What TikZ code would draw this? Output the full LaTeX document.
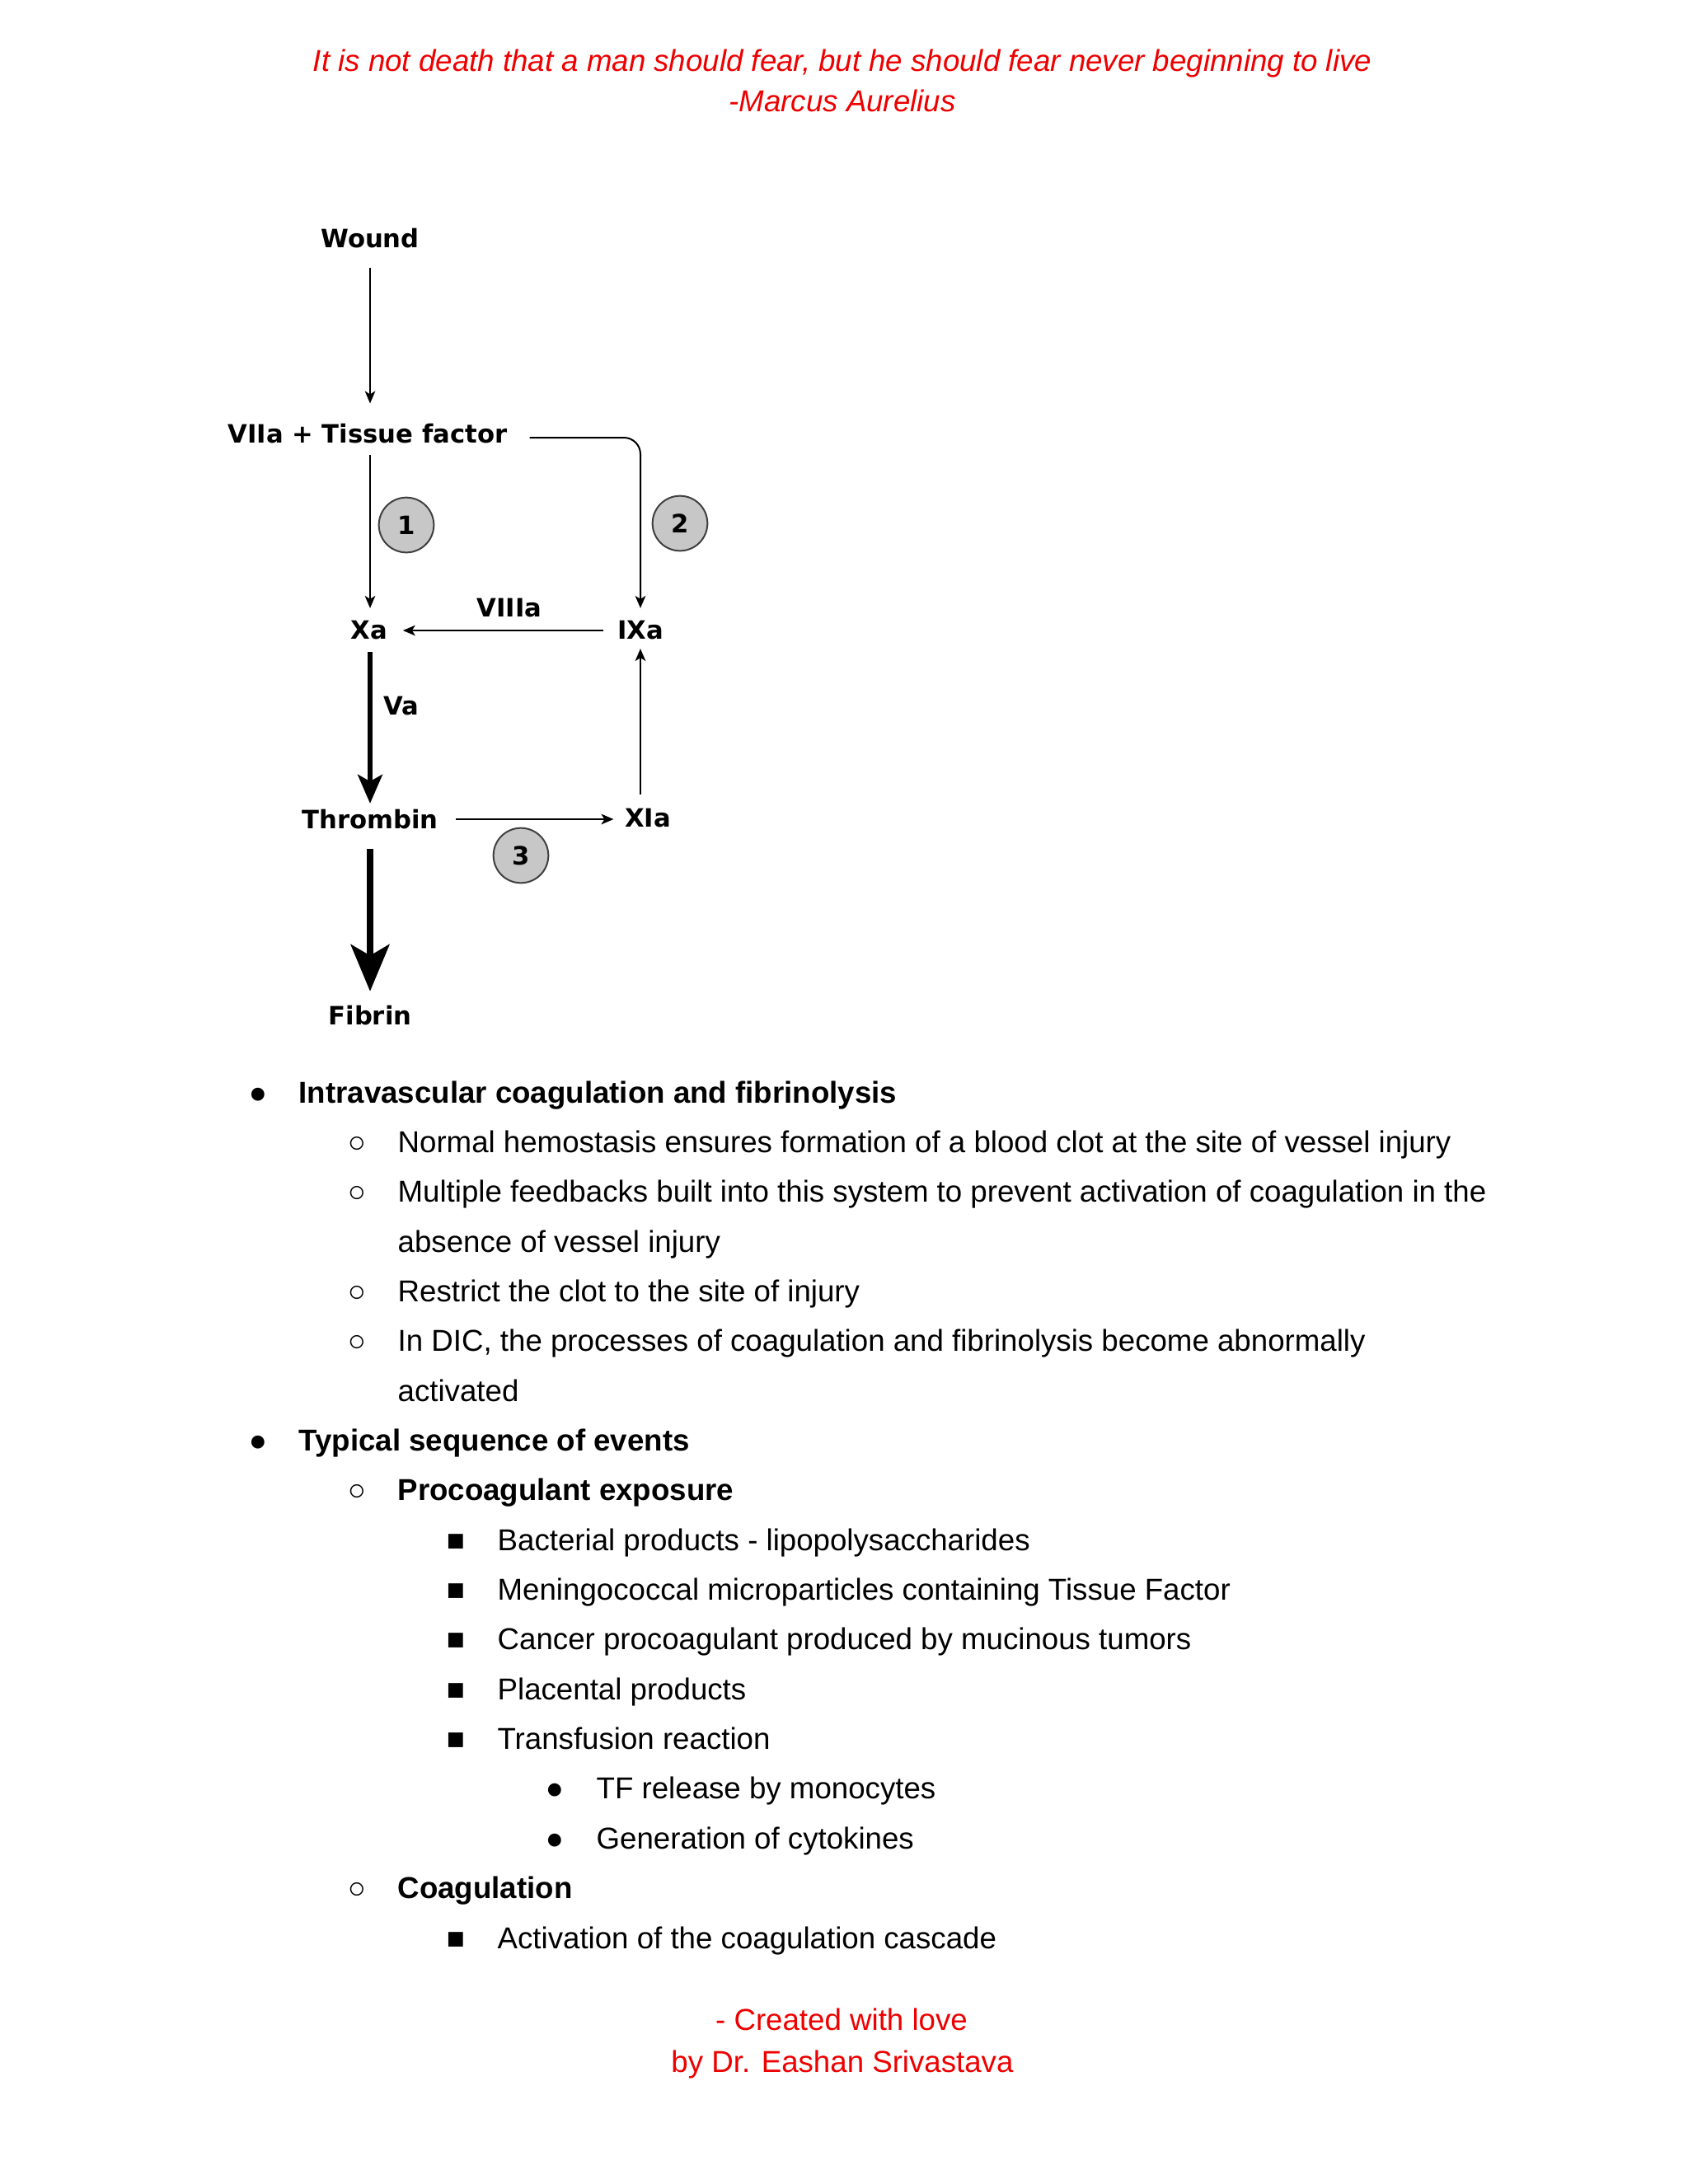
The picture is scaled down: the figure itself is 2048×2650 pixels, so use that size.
\documentclass[tikz,border=0pt]{standalone}
\usepackage{fontspec}
\setmainfont{Liberation Sans}
\newfontfamily\diagfont{DejaVu Sans}
\usetikzlibrary{arrows.meta,calc}
\definecolor{qred}{RGB}{238,0,0}
\begin{document}
\begin{tikzpicture}[x=0.3pt,y=-0.3pt,
  lbl/.style={font=\diagfont\bfseries\fontsize{9.2}{11}\selectfont, inner sep=0pt},
  num/.style={circle, draw=black!75, line width=0.6pt, fill=black!22, minimum size=20pt, inner sep=0pt, font=\diagfont\bfseries\fontsize{9.2}{11}\selectfont},
  thinarr/.style={line width=0.6pt, -{Stealth[length=4.5pt,width=3.8pt,inset=1.2pt]}},
  midarr/.style={line width=1.6pt, -{Stealth[length=10.5pt,width=9pt,inset=2.5pt]}},
  bigarr/.style={line width=2.5pt, -{Stealth[length=17pt,width=14pt,inset=4pt]}},
  txt/.style={anchor=base west, inner sep=0pt, font=\fontsize{11}{13}\selectfont},
  btxt/.style={anchor=base west, inner sep=0pt, font=\fontsize{11}{13}\selectfont\bfseries},
  bul/.style={anchor=base, inner sep=0pt, font=\fontsize{11}{13}\selectfont},
  redtxt/.style={anchor=base, inner sep=0pt, text=qred, font=\fontsize{11}{13}\selectfont},
  quote/.style={anchor=base, inner sep=0pt, text=qred, font=\fontsize{11}{13}\selectfont\itshape}
]
\useasboundingbox[fill=white] (0,0) rectangle (2048,2650);

% quote
\node[quote] (q1) at (1022,86) {It is not death that a man should fear, but he should fear never beginning to live};
\node[quote] (q2) at (1022,135) {-Marcus Aurelius};

% diagram nodes
\node[lbl] (wound) at (449,289) {Wound};
\node[lbl] (vii) at (446,526) {VIIa + Tissue factor};
\node[lbl] (xa) at (448,765) {Xa};
\node[lbl] (ixa) at (777,765) {IXa};
\node[lbl] (viiia) at (618,738) {VIIIa};
\node[lbl] (va) at (487,857) {Va};
\node[lbl] (thr) at (449,994) {Thrombin};
\node[lbl] (xia) at (786,993) {XIa};
\node[lbl] (fib) at (449,1232) {Fibrin};
\node[num] (c1) at (493,637) {1};
\node[num] (c2) at (825,635) {2};
\node[num] (c3) at (632,1038) {3};

% connectors
\draw[thinarr, shorten <=7pt, shorten >=7.2pt] (wound.south) -- (wound.south |- vii.north);
\draw[thinarr, shorten <=4pt, shorten >=4.5pt] (wound.south |- vii.south) -- (wound.south |- xa.north);
\draw[thinarr, rounded corners=6pt, shorten >=4.5pt] ([xshift=8pt,yshift=-1.5pt]vii.east) -| (ixa.north);
\draw[thinarr, shorten <=4.8pt, shorten >=5.4pt] (ixa.west) -- (xa.east);
\draw[midarr, shorten <=4.2pt, shorten >=2pt] (wound.south |- xa.south) -- (wound.south |- thr.north);
\draw[thinarr, shorten <=6.3pt, shorten >=3.9pt] (thr.east) -- (thr.east -| xia.west);
\draw[thinarr, shorten <=5pt, shorten >=3pt] (ixa.south |- xia.north) -- (ixa.south);
\draw[bigarr, shorten <=6.9pt, shorten >=5pt] (wound.south |- thr.south) -- (wound.south |- fib.north);

% bullet list
\node[bul] (b1) at (313,1338) {●};
\node[btxt] (t1) at (362,1338) {Intravascular coagulation and fibrinolysis};
\node[bul] (b2) at (433,1398.4) {○};
\node[txt] (t2) at (482,1398.4) {Normal hemostasis ensures formation of a blood clot at the site of vessel injury};
\node[bul] (b3) at (433,1458.7) {○};
\node[txt] (t3) at (482,1458.7) {Multiple feedbacks built into this system to prevent activation of coagulation in the};
\node[txt] (t3b) at (482,1519) {absence of vessel injury};
\node[bul] (b4) at (433,1579.4) {○};
\node[txt] (t4) at (482,1579.4) {Restrict the clot to the site of injury};
\node[bul] (b5) at (433,1639.8) {○};
\node[txt] (t5) at (482,1639.8) {In DIC, the processes of coagulation and fibrinolysis become abnormally};
\node[txt] (t5b) at (482,1700.1) {activated};
\node[bul] (b6) at (313,1760.5) {●};
\node[btxt] (t6) at (362,1760.5) {Typical sequence of events};
\node[bul] (b7) at (433,1820.8) {○};
\node[btxt] (t7) at (482,1820.8) {Procoagulant exposure};
\node[bul] (b8) at (553,1881.2) {■};
\node[txt] (t8) at (603,1881.2) {Bacterial products - lipopolysaccharides};
\node[bul] (b9) at (553,1941.5) {■};
\node[txt] (t9) at (603,1941.5) {Meningococcal microparticles containing Tissue Factor};
\node[bul] (b10) at (553,2001.9) {■};
\node[txt] (t10) at (603,2001.9) {Cancer procoagulant produced by mucinous tumors};
\node[bul] (b11) at (553,2062.2) {■};
\node[txt] (t11) at (603,2062.2) {Placental products};
\node[bul] (b12) at (553,2122.6) {■};
\node[txt] (t12) at (603,2122.6) {Transfusion reaction};
\node[bul] (b13) at (673,2182.9) {●};
\node[txt] (t13) at (723,2182.9) {TF release by monocytes};
\node[bul] (b14) at (673,2243.3) {●};
\node[txt] (t14) at (723,2243.3) {Generation of cytokines};
\node[bul] (b15) at (433,2303.6) {○};
\node[btxt] (t15) at (482,2303.6) {Coagulation};
\node[bul] (b16) at (553,2364) {■};
\node[txt] (t16) at (603,2364) {Activation of the coagulation cascade};

% footer
\node[redtxt] (f1) at (1021,2463) {- Created with love};
\node[redtxt] (f2) at (1022,2514) {by Dr. Eashan Srivastava};
\end{tikzpicture}
\end{document}
